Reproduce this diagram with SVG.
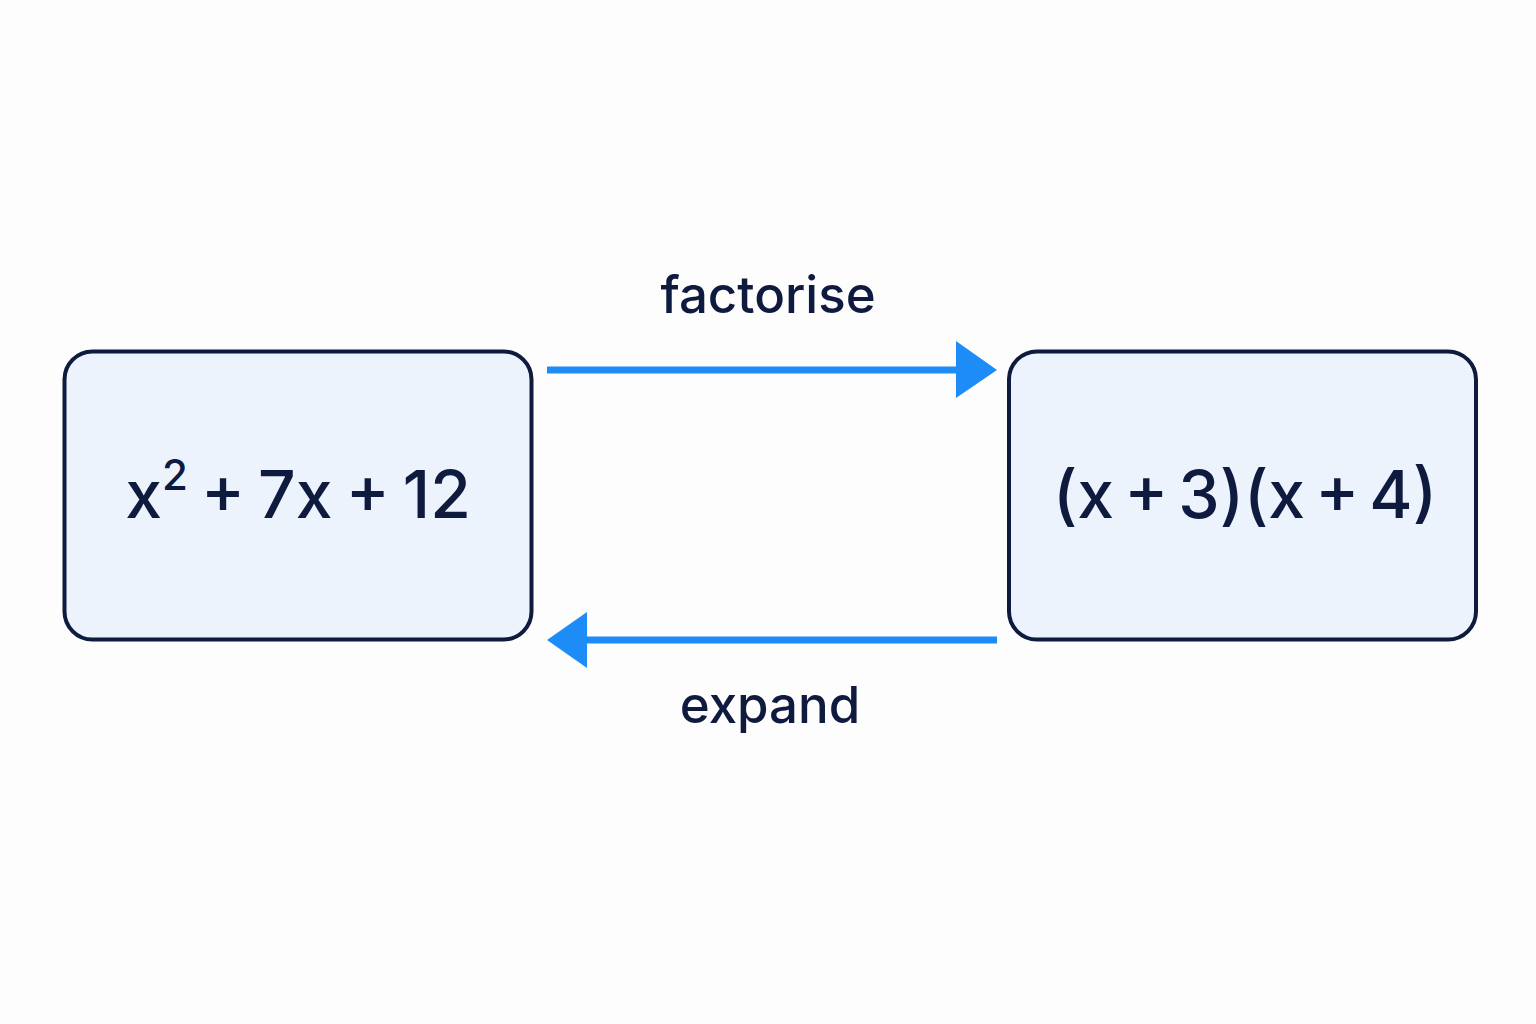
<svg xmlns="http://www.w3.org/2000/svg" width="1536" height="1024" viewBox="0 0 1536 1024">
<style>
.box{fill:#ecf3fd;stroke:#0e1a3e;stroke-width:4}
.math{font-family:Inter,"Liberation Sans",sans-serif;font-size:66px;font-weight:500;fill:#0e1a3e;text-anchor:middle}
.lbl{font-family:Inter,"Liberation Sans",sans-serif;font-size:51px;font-weight:500;fill:#0e1a3e;text-anchor:middle}
.conn{stroke:#1e8cf7;stroke-width:7;fill:none}
.head{fill:#1e8cf7}
</style>
<rect width="1536" height="1024" fill="#fdfdfd"/>
<g id="node-left">
<rect class="box" x="64.5" y="351.5" width="467" height="288" rx="28"/>
<text class="math" x="298" y="518" word-spacing="-4.5">x<tspan font-size="42" dy="-28">2</tspan><tspan dy="28"> + 7x + 12</tspan></text>
</g>
<g id="node-right">
<rect class="box" x="1009" y="351.5" width="467" height="288" rx="28"/>
<text class="math" x="1245" y="518" word-spacing="-7.5">(x + 3)(x + 4)</text>
</g>
<g id="connectors">
<line class="conn" x1="547" y1="370" x2="958" y2="370"/>
<polygon class="head" points="956,341 997,370 956,398"/>
<text class="lbl" x="768" y="313">factorise</text>
<line class="conn" x1="585" y1="640" x2="997" y2="640"/>
<polygon class="head" points="587,612 547,640 587,668"/>
<text class="lbl" x="770" y="723">expand</text>
</g>
</svg>
